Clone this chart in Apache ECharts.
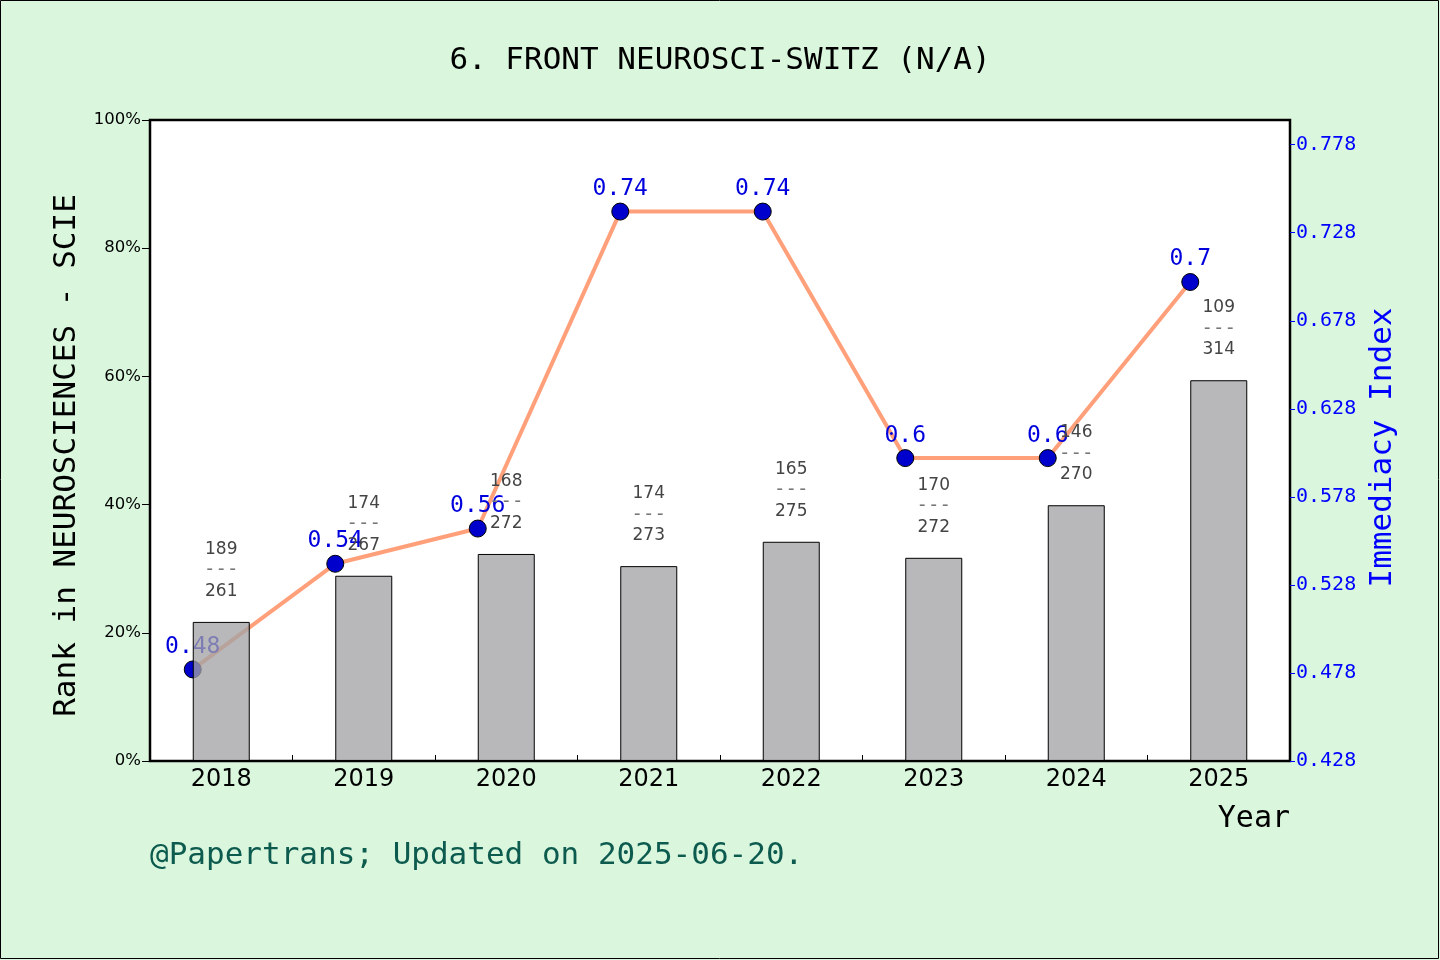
<!DOCTYPE html>
<html>
<head>
<meta charset="utf-8">
<title>FRONT NEUROSCI-SWITZ</title>
<script src="https://cdn.jsdelivr.net/npm/echarts@6/dist/echarts.min.js"></script>
<style>
  html, body { margin: 0; padding: 0; background: #daf7de; }
  #main { width: 1440px; height: 960px; }
</style>
</head>
<body>
<div id="main"></div>
<script>
// 年份和数据
const years = ['2018', '2019', '2020', '2021', '2022', '2023', '2024', '2025'];
const rankPercent = [21.7, 28.9, 32.3, 30.4, 34.2, 31.7, 39.9, 59.4];
const rankNo = [189, 174, 168, 174, 165, 170, 146, 109];
const rankTotal = [261, 267, 272, 273, 275, 272, 270, 314];
const immediacy = [0.48, 0.54, 0.56, 0.74, 0.74, 0.6, 0.6, 0.7];
const rightTicksMin = 0.428;
const rightTicksMax = 0.792;
const rightTicksStep = 0.05;

// 折线点画在柱子左边（偏移 0.2 个类目）
const LINE_SHIFT = -0.2;

const mono = '"DejaVu Sans Mono", monospace';
const sans = '"DejaVu Sans", sans-serif';

const chart = echarts.init(document.getElementById('main'));

const optionData = {
  backgroundColor: '#daf7de',
  title: {
    text: '6. FRONT NEUROSCI-SWITZ (N/A)',
    left: 'center',
    top: 40,
    textStyle: { fontFamily: mono, fontSize: 31, fontWeight: 'normal', color: '#000' },
  },
  grid: {
    left: 150,
    right: 150,
    top: 120,
    bottom: 199,
    show: true,
    backgroundColor: '#fff',
    borderColor: '#000',
    borderWidth: 2.5,
    containLabel: false,
  },
  xAxis: [
    {
      type: 'category',
      data: years,
      axisLine: { show: false },
      axisTick: { show: true, inside: true, length: 6, lineStyle: { color: '#000', width: 1 } },
      axisLabel: { fontFamily: sans, fontSize: 24, color: '#000', margin: 7 },
    },
    {
      // 折线用的隐藏数值轴，和类目轴对齐
      type: 'value',
      min: -0.5,
      max: years.length - 0.5,
      show: false,
    },
  ],
  yAxis: [
    {
      type: 'value',
      min: 0,
      max: 100,
      interval: 20,
      name: 'Rank in NEUROSCIENCES - SCIE',
      nameLocation: 'middle',
      nameGap: 67,
      nameTextStyle: { fontFamily: mono, fontSize: 31, color: '#000', padding: [0, 30, 0, 0] },
      axisLine: { show: false, onZero: false },
      axisTick: { show: true, length: 8, lineStyle: { color: '#000', width: 1 } },
      axisLabel: { formatter: '{value}%', fontFamily: sans, fontSize: 16.5, color: '#000', margin: 9 },
      splitLine: { show: false },
    },
    {
      type: 'value',
      position: 'right',
      min: rightTicksMin,
      max: rightTicksMax,
      interval: rightTicksStep,
      name: 'Immediacy Index',
      nameLocation: 'middle',
      nameGap: 64,
      nameRotate: 90,
      nameTextStyle: { fontFamily: mono, fontSize: 31, color: '#0000ff', padding: [0, 14, 0, 0] },
      axisLine: { show: false, onZero: false },
      axisTick: { show: true, length: 5, lineStyle: { color: '#0000ff', width: 1 } },
      axisLabel: {
        showMaxLabel: false,
        fontFamily: mono,
        fontSize: 20,
        color: '#0000ff',
        margin: 6,
        formatter: function(v) {
          return v.toFixed(3);
        },
      },
      splitLine: { show: false },
    },
  ],
  series: [
    {
      name: 'Immediacy Index',
      type: 'line',
      xAxisIndex: 1,
      yAxisIndex: 1,
      z: 1,
      data: immediacy.map((v, i) => [i + LINE_SHIFT, v]),
      lineStyle: { color: '#ffa07a', width: 4 },
      symbol: 'circle',
      symbolSize: 17,
      itemStyle: { color: '#0000cd', borderColor: '#000', borderWidth: 1 },
      label: {
        show: true,
        position: 'top',
        distance: 2,
        fontFamily: mono,
        fontSize: 23,
        color: '#0000dd',
        formatter: function(p) {
          return String(p.value[1]);
        },
      },
    },
    {
      name: 'Rank',
      type: 'bar',
      xAxisIndex: 0,
      yAxisIndex: 0,
      z: 3,
      barWidth: '40%',
      data: rankPercent,
      itemStyle: { color: 'rgba(162,163,166,0.77)', borderColor: '#000', borderWidth: 1 },
      label: {
        show: true,
        position: 'top',
        distance: 20,
        formatter: function(p) {
          return '{n|' + rankNo[p.dataIndex] + '}\n{d|---}\n{n|' + rankTotal[p.dataIndex] + '}';
        },
        rich: {
          n: { fontFamily: sans, fontSize: 17, color: '#444', lineHeight: 21 },
          d: { fontFamily: mono, fontSize: 19, color: '#777', lineHeight: 21 },
        },
      },
    },
  ],
  graphic: [
    {
      type: 'rect',
      shape: { x: 0.5, y: 0.5, width: 1438, height: 958 },
      style: { fill: 'none', stroke: '#000', lineWidth: 1 },
      silent: true,
    },
    {
      type: 'text',
      right: 150,
      top: 804,
      style: { text: 'Year', font: '30px ' + mono, fill: '#000' },
    },
    {
      type: 'text',
      left: 150,
      top: 840,
      style: { text: '@Papertrans; Updated on 2025-06-20.', font: '31px ' + mono, fill: '#0d5a4e' },
    },
  ],
};

chart.setOption(optionData);
</script>
</body>
</html>
